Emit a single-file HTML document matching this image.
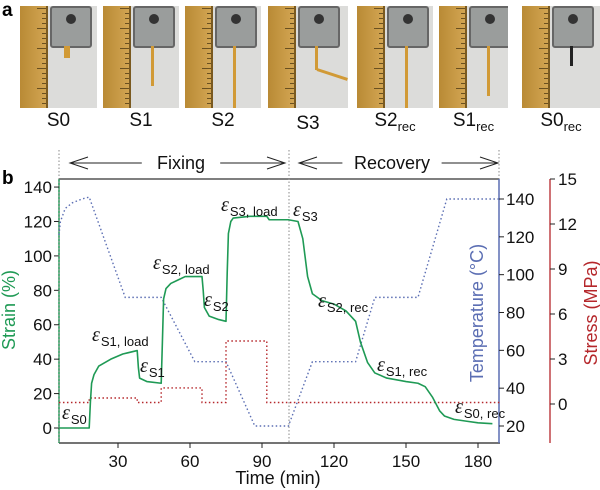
<!DOCTYPE html>
<html><head><meta charset="utf-8"><style>
body{margin:0;width:600px;height:490px;background:#fff;overflow:hidden;font-family:"Liberation Sans",sans-serif;position:relative}
.ph{position:absolute;top:6px;height:102px;background:#dcdcda;overflow:hidden}
.ru{position:absolute;left:0;top:0;bottom:0;background:linear-gradient(90deg,#b98a35,#d2a552);border-right:2px solid #7a5a20}
.ru i{position:absolute;right:0;height:1px;background:#6a5020}
.cl{position:absolute;top:0;height:38px;background:#9a9d9c;border:2px solid #666;border-radius:3px}
.cl b{position:absolute;left:50%;top:6px;width:10px;height:10px;margin-left:-5px;border-radius:50%;background:#333}
.st{position:absolute;background:#d19a36}
.lab{position:absolute;top:110px;font-size:19px;color:#111;transform:translateX(-50%)}
.lab sub{font-size:13px}
</style></head><body>
<div style="position:absolute;left:2px;top:0px;font-weight:bold;font-size:19px">a</div>
<div style="position:absolute;left:2px;top:168px;font-weight:bold;font-size:19px">b</div>
<div id="photos"></div>
<svg id="chart" width="600" height="490" style="position:absolute;left:0;top:0"></svg>
<script>
const photoNames=['S0','S1','S2','S3','S2','S1','S0'];
const photoSubs=['','','','','rec','rec','rec'];
const photoX=[[20,97],[103,179],[185,261],[268,348],[357,433],[439,508],[522,600]];
const P=document.getElementById('photos');
photoX.forEach((p,i)=>{
 const d=document.createElement('div');d.className='ph';
 
 
 d.style.left=p[0]+'px';d.style.width=(p[1]-p[0])+'px';
 let h='<div class="ru" style="width:26px">';
 for(let k=0;k<20;k++)h+='<i style="top:'+(k*5+2)+'px;width:'+(k%4==0?9:4)+'px"></i>';
 h+='</div><div class="cl" style="left:30px;width:38px"><b></b></div>';
 const len=[12,40,70,40,70,50,20][i];
 if(i==3)h+='<div class="st" style="left:47px;top:40px;width:3px;height:24px"></div><div class="st" style="left:49px;top:62px;width:32px;height:3px;transform:rotate(18deg);transform-origin:left"></div>';
 else h+='<div class="st" style="left:'+(i==0?44:48)+'px;top:40px;width:'+(i==0?6:3)+'px;height:'+len+'px;'+(i==6?'background:#222;':'')+'"></div>';
 d.innerHTML=h;P.appendChild(d);
 const l=document.createElement('div');l.className='lab';
 
 
 l.style.left=((p[0]+p[1])/2)+'px';if(i==3)l.style.top='113px';
 l.innerHTML=photoNames[i]+(photoSubs[i]?'<sub>'+photoSubs[i]+'</sub>':'');
 P.appendChild(l);
});

// ---- chart data ----
const strainT=[5.4,18,18.5,19,20,22,27,32,38,38.5,39,42,48,48.5,49,50,52,55,58,65,65.5,66,68,72,75,75.5,76,77,78,85,92,93,101,105,107,109,111,115,120,125,129,131,134,137,142,150,155,158,161,164,166,170,175,180,186];
const strainV=[0,0,15,26,31,36,40,43,45,35,29,27,26,50,75,81,84,86,88,88,80,70,65,63,62,90,113,120,122,123,123,121,121,120,110,88,78,74,72,68,62,50,38,32,29,27,26,24,18,10,7,5,4,3,2.5];
const tempT=[5.4,6,8,11,15,18,33,48,62,75,87,101,111,129,137,155,167,189];
const tempV=[121,128,135,138,140,141,88,88,54,54,20,20,54,54,88,88,140,140];
const stressT=[5.4,18,38,48,65,75,92,189];
const stressV=[0.1,0.4,0.1,1.07,0.1,4.2,0.1];
const xTicks=[30,60,90,120,150,180];
const strainTicks=[0,20,40,60,80,100,120,140];
const tempTicks=[20,40,60,80,100,120,140];
const stressTicks=[0,3,6,9,12,15];

const X=t=>46+t*2.4;
const YS=s=>428-s*1.721;
const YT=v=>199+(140-v)*1.8917;
const YP=v=>404-v*15;
const L=59,R=499,T=179,B=443;
const GR='#1f9a55',BL='#5b6eb3',RD='#b5272b';
const S=document.getElementById('chart');
const NS='http://www.w3.org/2000/svg';
function el(tag,a,txt){const e=document.createElementNS(NS,tag);for(const k in a)e.setAttribute(k,a[k]);if(txt!=null)e.textContent=txt;S.appendChild(e);return e;}

let e;
e=el('line',{x1:L,y1:T,x2:R,y2:T,stroke:'#333','stroke-width':1.3});


e=el('line',{x1:L,y1:B,x2:R+1,y2:B,stroke:'#222','stroke-width':1.3});


e=el('line',{x1:L,y1:T,x2:L,y2:B,stroke:GR,'stroke-width':1.5});


e=el('line',{x1:R,y1:T,x2:R,y2:B,stroke:BL,'stroke-width':1.5});


e=el('line',{x1:550,y1:T,x2:550,y2:B,stroke:RD,'stroke-width':1.3});



xTicks.forEach(t=>{
 el('line',{x1:X(t),y1:B,x2:X(t),y2:B+5,stroke:'#222'});
 e=el('text',{x:X(t),y:B+24,'font-size':17,'text-anchor':'middle',fill:'#111'},t);
 
 
});
strainTicks.forEach(v=>{
 el('line',{x1:L-5,y1:YS(v),x2:L,y2:YS(v),stroke:'#222'});
 e=el('text',{x:L-7,y:YS(v)+6,'font-size':17,'text-anchor':'end',fill:'#111'},v);
 
 
});
tempTicks.forEach(v=>{
 el('line',{x1:R,y1:YT(v),x2:R+5,y2:YT(v),stroke:'#222'});
 e=el('text',{x:R+7,y:YT(v)+6,'font-size':17,fill:'#111'},v);
 
 
});
stressTicks.forEach(v=>{
 el('line',{x1:550,y1:YP(v),x2:555,y2:YP(v),stroke:'#222'});
 e=el('text',{x:558,y:YP(v)+6,'font-size':17,fill:'#111'},v);
 
 
});

e=el('text',{x:0,y:0,'font-size':18,fill:GR,'text-anchor':'middle',transform:'translate(15,310) rotate(-90)'},'Strain (%)');


e=el('text',{x:0,y:0,'font-size':18,fill:BL,'text-anchor':'middle',transform:'translate(483,313) rotate(-90)'},'Temperature (°C)');


e=el('text',{x:0,y:0,'font-size':18,fill:RD,'text-anchor':'middle',transform:'translate(597,313) rotate(-90)'},'Stress (MPa)');


e=el('text',{x:278,y:484,'font-size':18,'text-anchor':'middle',fill:'#111'},'Time (min)');



[[59,150,B],[289,150,B],[499,150,T]].forEach((p,i)=>{
 e=el('line',{x1:p[0],y1:p[1],x2:p[0],y2:p[2],stroke:'#888','stroke-dasharray':'1.5,2','stroke-width':1});
 
 
});
function arrow(x1,x2,tx,txt,name){
 const w=txt.length*5.2+8;
 el('line',{x1:x1,y1:163,x2:tx-w,y2:163,stroke:'#222'});
 el('line',{x1:tx+w,y1:163,x2:x2,y2:163,stroke:'#222'});
 el('polyline',{points:(x1+18)+',157 '+x1+',163 '+(x1+18)+',169',fill:'none',stroke:'#222'});
 el('polyline',{points:(x2-18)+',157 '+x2+',163 '+(x2-18)+',169',fill:'none',stroke:'#222'});
 e=el('text',{x:tx,y:169,'font-size':18,'text-anchor':'middle',fill:'#111'},txt);
 
 
}
arrow(70,285,181,'Fixing','fixing-label');
arrow(299,498,392,'Recovery','recovery-label');

e=el('polyline',{points:tempT.map((t,i)=>X(t)+','+YT(tempV[i])).join(' '),fill:'none',stroke:BL,'stroke-width':1.4,'stroke-dasharray':'1.5,2.5'});


let sp=[];
stressV.forEach((v,i)=>{sp.push(X(stressT[i])+','+YP(v));sp.push(X(stressT[i+1])+','+YP(v));});
e=el('polyline',{points:sp.join(' '),fill:'none',stroke:RD,'stroke-width':1.4,'stroke-dasharray':'1.5,2.5'});


e=el('polyline',{points:strainT.map((t,i)=>X(t)+','+YS(strainV[i])).join(' '),fill:'none',stroke:GR,'stroke-width':1.6,'stroke-linejoin':'round'});



const ann=[[62,419,'S0'],[92,341,'S1, load'],[140,372,'S1'],[153,269,'S2, load'],[204,306,'S2'],[221,211,'S3, load'],[293,216,'S3'],[318,307,'S2, rec'],[377,371,'S1, rec'],[455,413,'S0, rec']];
ann.forEach(a=>{
 const t=el('text',{x:a[0],y:a[1],fill:'#111'});
 
 
 const s1=document.createElementNS(NS,'tspan');s1.setAttribute('font-family','Liberation Serif,serif');s1.setAttribute('font-style','italic');s1.setAttribute('font-size','20');s1.textContent='ε';t.appendChild(s1);
 const s2=document.createElementNS(NS,'tspan');s2.setAttribute('font-size','13');s2.setAttribute('dy','5');s2.setAttribute('dx','1');s2.textContent=a[2];t.appendChild(s2);
});
</script>
</body></html>
